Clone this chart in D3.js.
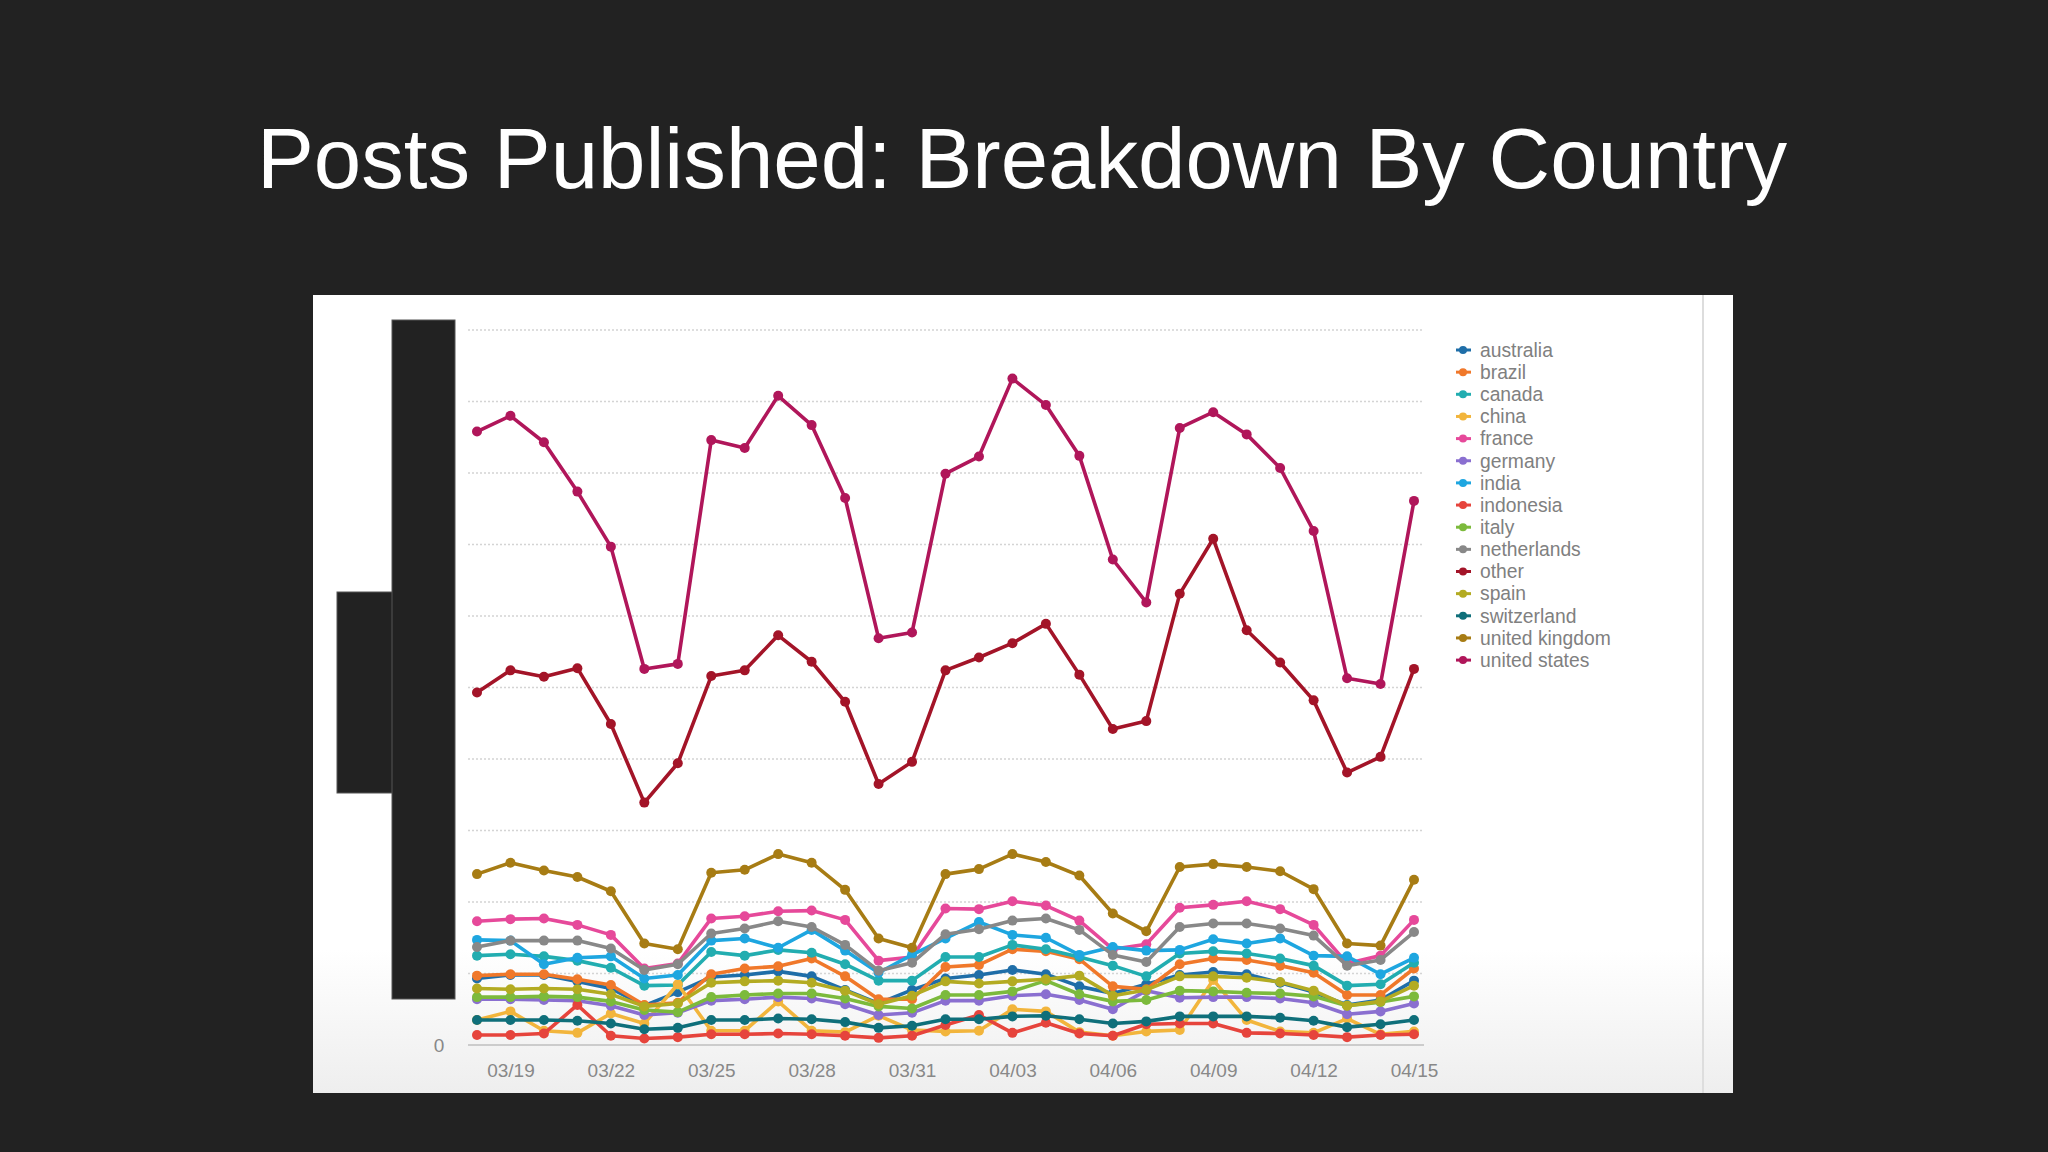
<!DOCTYPE html>
<html>
<head>
<meta charset="utf-8">
<script src="https://cdn.jsdelivr.net/npm/d3@7"></script>
<style>
  body { margin: 0; background: #222222; }
  svg { display: block; }
</style>
</head>
<body>
<svg width="2048" height="1152"></svg>
<script>
// day labels, one per point
var dates = ["2015-03-18","2015-03-19","2015-03-20","2015-03-21","2015-03-22","2015-03-23","2015-03-24",
    "2015-03-25","2015-03-26","2015-03-27","2015-03-28","2015-03-29","2015-03-30","2015-03-31",
    "2015-04-01","2015-04-02","2015-04-03","2015-04-04","2015-04-05","2015-04-06","2015-04-07",
    "2015-04-08","2015-04-09","2015-04-10","2015-04-11","2015-04-12","2015-04-13","2015-04-14","2015-04-15"];

var tickDates = ["2015-03-19","2015-03-22","2015-03-25","2015-03-28","2015-03-31",
    "2015-04-03","2015-04-06","2015-04-09","2015-04-12","2015-04-15"];

var countries = ["australia","brazil","canada","china","france","germany","india","indonesia",
    "italy","netherlands","other","spain","switzerland","united kingdom","united states"];

var colors = ["#1f6ea8","#f0782a","#22adb0","#f2b53c","#e6499a","#8a6fd0","#1ea6e0","#e6443c",
    "#7cba3c","#888888","#a31428","#b3ab22","#0f6f7a","#a77c14","#b0165a"];

var australia   = [93,98,98,89,79,55,74,95,98,103, 96,77,58,77,93,98,105,99,82, 72,85,98,102,99,87,74,56,63,90];
var brazil      = [97,99,99,92,84,56,59,99,107,110, 121,96,64,64,109,112,134,131,120, 82,78,113,121,119,111,101,70,70,107];
var canada      = [125,127,124,118,108,83,84,130,125,133, 129,113,90,90,123,123,140,134,123, 111,96,128,131,128,121,111,83,85,115];
var china       = [35,47,20,17,44,30,85,20,20,61, 20,18,41,21,19,20,50,47,18, 13,19,21,91,35,19,17,37,15,19];
var france      = [173,176,177,168,154,107,114,177,180,187, 188,175,118,123,191,190,201,195,174, 134,141,192,196,201,190,168,114,125,175];
var germany     = [64,64,63,62,55,42,45,62,64,67, 65,57,42,45,62,62,69,71,63, 50,76,66,67,67,65,59,43,47,58];
var india       = [147,146,113,122,124,93,98,146,149,136, 161,132,101,126,149,172,154,150,126, 137,132,133,148,142,149,125,124,99,122];
var indonesia   = [14,14,16,56,13,9,11,15,15,16, 15,13,10,13,28,42,17,31,16, 13,29,30,30,17,16,14,11,14,15];
var italy       = [67,67,68,67,61,49,46,67,70,72, 72,65,54,51,70,70,75,90,71, 61,63,76,75,73,72,68,55,60,68];
var netherlands = [137,146,146,146,135,105,113,156,163,173, 165,140,104,115,155,162,174,177,161, 126,116,165,170,170,163,153,111,119,158];
var other       = [493,524,515,527,449,339,394,516,524,573, 536,480,365,396,524,542,562,589,518, 442,453,631,708,580,535,482,381,403,526];
var spain       = [79,78,79,78,71,54,58,87,89,90, 87,76,57,69,89,86,89,92,97, 69,77,96,96,94,88,76,55,61,83];
var switzerland = [35,35,35,34,30,22,24,35,35,37, 36,32,24,27,36,36,40,41,36, 30,33,40,40,40,38,34,25,29,35];
var unitedKingdom = [239,255,244,235,215,142,134,241,245,267, 255,217,149,136,239,246,267,256,237, 184,159,249,253,249,243,218,142,139,231];
var unitedStates  = [858,880,843,774,697,526,533,846,835,908, 867,765,569,577,799,823,932,895,824, 679,619,863,885,854,807,719,513,505,761];

var gridValues = [100,200,300,400,500,600,700,800,900,1000];

var seriesValues = [australia, brazil, canada, china, france, germany, india, indonesia,
    italy, netherlands, other, spain, switzerland, unitedKingdom, unitedStates];

var parse = d3.timeParse("%Y-%m-%d");
var series = countries.map(function(name, i) {
    return {
        name: name,
        color: colors[i],
        values: seriesValues[i].map(function(v, j) { return {date: parse(dates[j]), value: v}; })
    };
});

var svg = d3.select("svg");

// title
svg.append("text")
    .attr("x", 1022)
    .attr("y", 188)
    .attr("text-anchor", "middle")
    .attr("fill", "#ffffff")
    .style("font-family", "'Liberation Sans', Arial, sans-serif")
    .style("font-size", "85px")
    .attr("textLength", 1530)
    .attr("lengthAdjust", "spacingAndGlyphs")
    .text("Posts Published: Breakdown By Country");

// white panel
var defs = svg.append("defs");
var grad = defs.append("linearGradient")
    .attr("id", "fade")
    .attr("x1", 0).attr("y1", 0).attr("x2", 0).attr("y2", 1);
grad.append("stop").attr("offset", "0.82").attr("stop-color", "#ffffff");
grad.append("stop").attr("offset", "1").attr("stop-color", "#eeeeee");

svg.append("rect")
    .attr("x", 313).attr("y", 295)
    .attr("width", 1420).attr("height", 798)
    .attr("fill", "url(#fade)");

svg.append("line")
    .attr("x1", 1703).attr("x2", 1703)
    .attr("y1", 295).attr("y2", 1093)
    .attr("stroke", "#dddddd").attr("stroke-width", 2);

var x = d3.scaleTime()
    .domain([parse(dates[0]), parse(dates[dates.length - 1])])
    .range([477, 1414]);

var y = d3.scaleLinear()
    .domain([0, 1000])
    .range([1045, 330]);

var g = svg.append("g");

// dotted gridlines
g.selectAll(".grid")
    .data(gridValues)
    .enter().append("line")
    .attr("class", "grid")
    .attr("x1", 468).attr("x2", 1424)
    .attr("y1", function(d) { return y(d); })
    .attr("y2", function(d) { return y(d); })
    .attr("stroke", "#d4d4d4")
    .attr("stroke-width", 1.5)
    .attr("stroke-dasharray", "2,2");

// zero line
g.append("line")
    .attr("x1", 468).attr("x2", 1424)
    .attr("y1", y(0)).attr("y2", y(0))
    .attr("stroke", "#cccccc")
    .attr("stroke-width", 2);

g.append("text")
    .attr("x", 439).attr("y", y(0) + 7)
    .attr("text-anchor", "middle")
    .attr("fill", "#888888")
    .style("font-family", "'Liberation Sans', Arial, sans-serif")
    .style("font-size", "19px")
    .text("0");

// x axis
var xAxis = d3.axisBottom(x)
    .tickValues(tickDates.map(parse))
    .tickFormat(d3.timeFormat("%m/%d"))
    .tickSize(0)
    .tickPadding(0);

var ax = g.append("g")
    .attr("transform", "translate(0,1063)")
    .call(xAxis);
ax.select(".domain").remove();
ax.selectAll("text")
    .attr("dy", "0.71em")
    .attr("fill", "#888888")
    .style("font-family", "'Liberation Sans', Arial, sans-serif")
    .style("font-size", "19px");

// lines and points
var line = d3.line()
    .x(function(d) { return x(d.date); })
    .y(function(d) { return y(d.value); });

var sg = g.selectAll(".series")
    .data(series)
    .enter().append("g")
    .attr("class", "series");

sg.append("path")
    .attr("d", function(d) { return line(d.values); })
    .attr("fill", "none")
    .attr("stroke", function(d) { return d.color; })
    .attr("stroke-width", 3.6)
    .attr("stroke-linejoin", "round");

sg.selectAll("circle")
    .data(function(d) { return d.values.map(function(v) { return {p: v, color: d.color}; }); })
    .enter().append("circle")
    .attr("cx", function(d) { return x(d.p.date); })
    .attr("cy", function(d) { return y(d.p.value); })
    .attr("r", 5)
    .attr("fill", function(d) { return d.color; });

// legend
var legend = svg.append("g")
    .attr("transform", "translate(1463,350)");

var li = legend.selectAll(".item")
    .data(series)
    .enter().append("g")
    .attr("class", "item")
    .attr("transform", function(d, i) { return "translate(0," + (i * 22.15) + ")"; });

li.append("line")
    .attr("x1", -7).attr("x2", 8)
    .attr("stroke", function(d) { return d.color; })
    .attr("stroke-width", 3);
li.append("circle")
    .attr("r", 4)
    .attr("fill", function(d) { return d.color; });
li.append("text")
    .attr("x", 17)
    .attr("dy", "0.35em")
    .attr("fill", "#808080")
    .style("font-family", "'Liberation Sans', Arial, sans-serif")
    .style("font-size", "19.3px")
    .text(function(d) { return d.name; });

// redaction blocks over the y axis labels
svg.append("rect")
    .attr("x", 337).attr("y", 592)
    .attr("width", 56).attr("height", 201)
    .attr("fill", "#222222").attr("stroke", "#555555").attr("stroke-width", 1);
svg.append("rect")
    .attr("x", 392).attr("y", 320)
    .attr("width", 63).attr("height", 679)
    .attr("fill", "#222222").attr("stroke", "#555555").attr("stroke-width", 1);
</script>
</body>
</html>
